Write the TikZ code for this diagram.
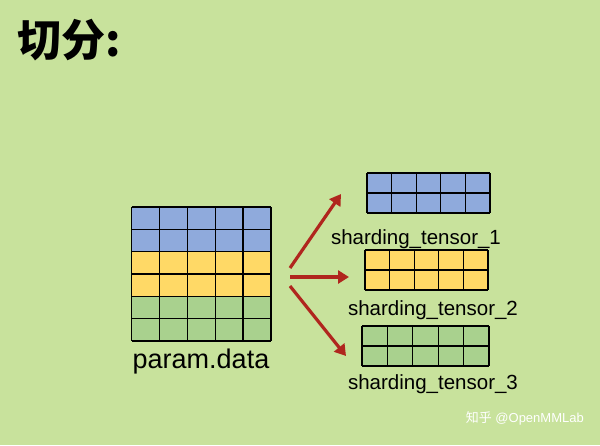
\documentclass[tikz,border=0pt]{standalone}
\usepackage{fontspec}
\setmainfont{Liberation Sans}
\newfontfamily\cjk{Noto Sans CJK SC}
\usetikzlibrary{arrows.meta}
\definecolor{bg}{HTML}{C8E29C}
\definecolor{cblue}{HTML}{8FAADC}
\definecolor{cyel}{HTML}{FFD966}
\definecolor{cgrn}{HTML}{A9D18E}
\definecolor{arr}{HTML}{B0261E}
\tikzset{gridline/.style={line width=1.3pt,black},
 lbl/.style={font=\fontsize{20.5}{22}\selectfont,inner sep=0pt},
 redarrow/.style={arr,line width=3.2pt,-{Triangle[length=11pt,width=13pt]}}}
\newcommand{\tgrid}[6]{% x0 y0 x1 y1 rows color
 \fill[#6] (#1,#2) rectangle (#3,#4);
 \pgfmathsetmacro{\dx}{(#3-#1)/5}\pgfmathsetmacro{\dy}{(#4-#2)/#5}
 \foreach \i in {0,...,5}{\draw[gridline] ({#1+\i*\dx},#2) -- ({#1+\i*\dx},#4);}
 \foreach \j in {0,...,#5}{\draw[gridline] (#1,{#2+\j*\dy}) -- (#3,{#2+\j*\dy});}
}
\begin{document}
\begin{tikzpicture}[x=1pt,y=-1pt]
\fill[bg] (0,0) rectangle (600,445);
\useasboundingbox (0,0) rectangle (600,445);
\node[anchor=west,inner sep=0pt,font=\cjk\bfseries\fontsize{44}{48}\selectfont] (title) at (17,40) {切分:};
% main grid
\fill[cblue] (131.5,207) rectangle (271,251.7);
\fill[cyel] (131.5,251.7) rectangle (271,296.3);
\fill[cgrn] (131.5,296.3) rectangle (271,341);
\foreach \i in {0,...,5}{\draw[gridline] ({131.5+\i*27.9},207) -- ({131.5+\i*27.9},341);}
\foreach \j in {0,...,6}{\draw[gridline] (131.5,{207+\j*22.33}) -- (271,{207+\j*22.33});}
\tgrid{367}{173}{490}{213}{2}{cblue}
\tgrid{365}{250}{488}{290}{2}{cyel}
\tgrid{362}{326}{489}{366}{2}{cgrn}
\node[lbl,font=\fontsize{27}{30}\selectfont] (pd) at (201,362) {param.data};
\node[lbl] (s1) at (416,239) {sharding\_tensor\_1};
\node[lbl] (s2) at (433,310) {sharding\_tensor\_2};
\node[lbl] (s3) at (433,384) {sharding\_tensor\_3};
\coordinate (a0) at (290,268); \coordinate (a1) at (341,194);
\coordinate (b0) at (290,277); \coordinate (b1) at (349,277);
\coordinate (c0) at (290,286); \coordinate (c1) at (346,356);
\draw[redarrow] (a0) -- (a1);
\draw[redarrow] (b0) -- (b1);
\draw[redarrow] (c0) -- (c1);
\node[anchor=east,inner sep=0pt,white,font=\fontsize{13}{15}\selectfont] (wm) at (584,418) {{\cjk 知乎} @OpenMMLab};
\end{tikzpicture}
\end{document}
